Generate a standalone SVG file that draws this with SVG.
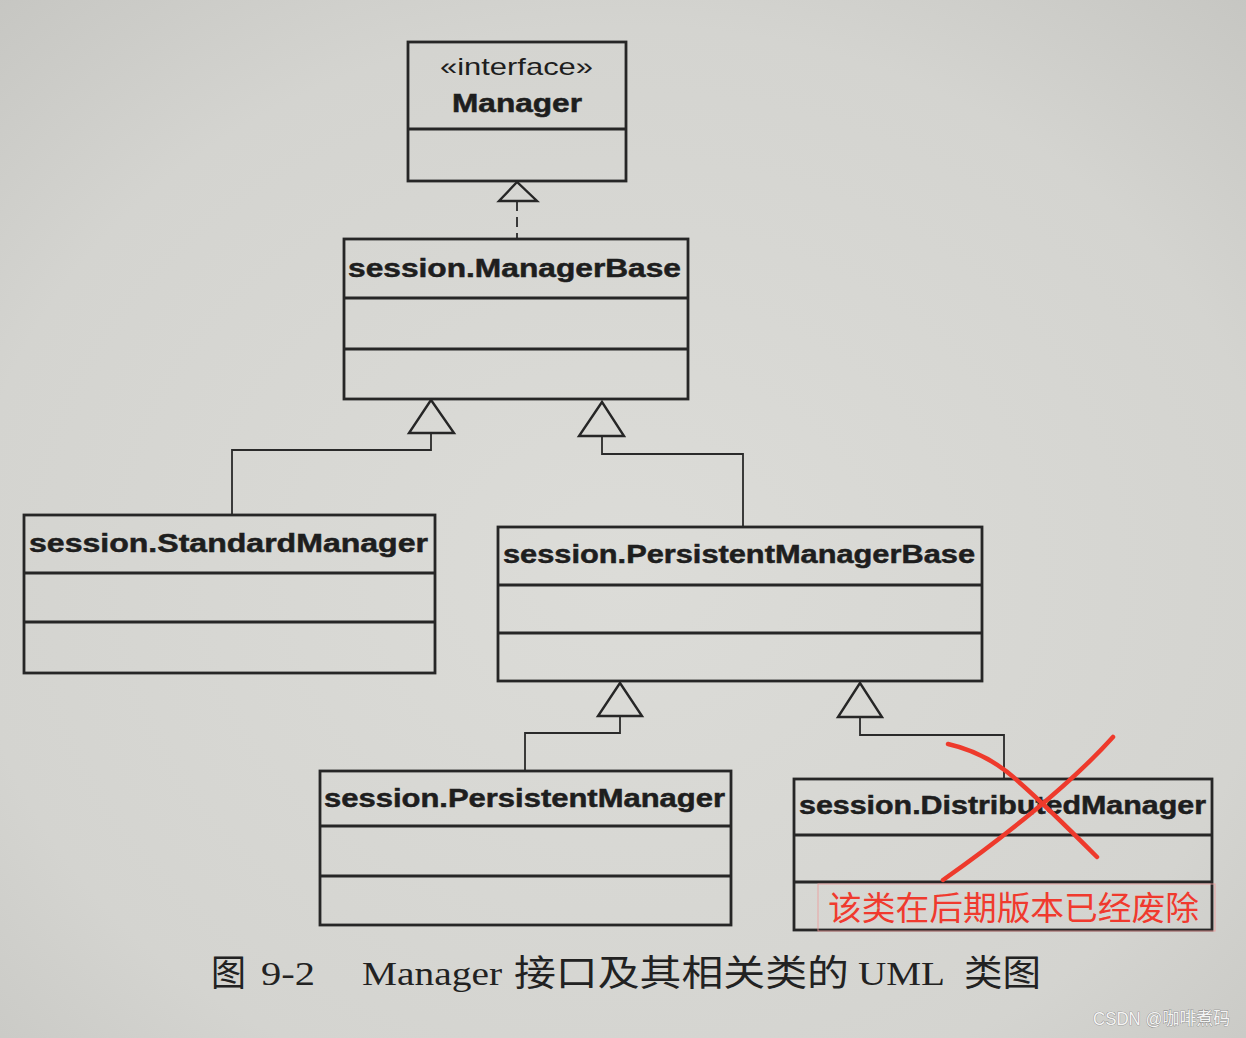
<svg xmlns="http://www.w3.org/2000/svg" width="1246" height="1038" viewBox="0 0 1246 1038">
<defs>
<radialGradient id="bg" cx="0.5" cy="0.55" r="0.75">
<stop offset="0" stop-color="#dcdcd8"/>
<stop offset="0.7" stop-color="#d4d4d0"/>
<stop offset="1" stop-color="#c6c6c2"/>
</radialGradient>
<style>
.box{fill:none;stroke:#262626;stroke-width:2.8}
.div{stroke:#262626;stroke-width:2.8}
.name{font-family:"Liberation Sans",Arial,sans-serif;font-weight:bold;font-size:25px;fill:#1e1e1e;stroke:#1e1e1e;stroke-width:0.5}
.stereo{font-family:"Liberation Sans",Arial,sans-serif;font-size:24px;fill:#1e1e1e}
.conn{fill:none;stroke:#2a2a2a;stroke-width:1.8}
.tri{fill:none;stroke:#262626;stroke-width:2.4;stroke-linejoin:miter}
.x{fill:none;stroke:#ee3a2c;stroke-width:4.5;stroke-linecap:round}
.cap{font-family:"Liberation Serif","Times New Roman","Noto Sans CJK SC",serif;font-size:34px;fill:#222}
.capc{font-family:"Noto Sans CJK SC",sans-serif;font-size:36px;fill:#222}
</style>
</defs>
<rect width="1246" height="1038" fill="url(#bg)"/>

<g id="connectors">
<line class="conn" x1="517" y1="201" x2="517" y2="239" stroke-dasharray="10 6"/>
<polygon class="tri" points="517,182 499,201 537,201"/>
<polyline class="conn" points="431,433 431,450 232,450 232,515"/>
<polygon class="tri" points="431,400 409,433 454,433"/>
<polyline class="conn" points="602,436 602,454 743,454 743,527"/>
<polygon class="tri" points="602,402 579,436 624,436"/>
<polyline class="conn" points="620,716 620,733 525,733 525,771"/>
<polygon class="tri" points="620,683 598,716 642,716"/>
<polyline class="conn" points="860,717 860,735 1004,735 1004,779"/>
<polygon class="tri" points="860,683 838,717 882,717"/>
</g>

<g id="Manager">
<rect class="box" x="408" y="42" width="218" height="139"/>
<line class="div" x1="408" y1="129" x2="626" y2="129"/>
<text class="stereo" x="440" y="75" textLength="153" lengthAdjust="spacingAndGlyphs">«interface»</text>
<text class="name" x="452" y="112" textLength="130" lengthAdjust="spacingAndGlyphs">Manager</text>
</g>

<g id="ManagerBase">
<rect class="box" x="344" y="239" width="344" height="160"/>
<line class="div" x1="344" y1="298" x2="688" y2="298"/>
<line class="div" x1="344" y1="349" x2="688" y2="349"/>
<text class="name" x="348" y="277" textLength="333" lengthAdjust="spacingAndGlyphs">session.ManagerBase</text>
</g>

<g id="StandardManager">
<rect class="box" x="24" y="515" width="411" height="158"/>
<line class="div" x1="24" y1="573" x2="435" y2="573"/>
<line class="div" x1="24" y1="622" x2="435" y2="622"/>
<text class="name" x="29" y="552" textLength="399" lengthAdjust="spacingAndGlyphs">session.StandardManager</text>
</g>

<g id="PersistentManagerBase">
<rect class="box" x="498" y="527" width="484" height="154"/>
<line class="div" x1="498" y1="585" x2="982" y2="585"/>
<line class="div" x1="498" y1="633" x2="982" y2="633"/>
<text class="name" x="503" y="563" textLength="472" lengthAdjust="spacingAndGlyphs">session.PersistentManagerBase</text>
</g>

<g id="PersistentManager">
<rect class="box" x="320" y="771" width="411" height="154"/>
<line class="div" x1="320" y1="826" x2="731" y2="826"/>
<line class="div" x1="320" y1="876" x2="731" y2="876"/>
<text class="name" x="324" y="807" textLength="401" lengthAdjust="spacingAndGlyphs">session.PersistentManager</text>
</g>

<g id="DistributedManager">
<rect class="box" x="794" y="779" width="418" height="151"/>
<line class="div" x1="794" y1="835" x2="1212" y2="835"/>
<line class="div" x1="794" y1="882" x2="1212" y2="882"/>
<text class="name" x="799" y="814" textLength="407" lengthAdjust="spacingAndGlyphs">session.DistributedManager</text>
<rect x="818" y="884" width="397" height="47" fill="none" stroke="#e99" stroke-width="1" opacity="0.8"/>
<text x="828" y="920" font-family="'Noto Sans CJK SC',sans-serif" font-size="33" fill="#f03a2e" textLength="371" lengthAdjust="spacingAndGlyphs">该类在后期版本已经废除</text>
<path class="x" d="M948,744 C975,750 1000,764 1020,783 C1045,805 1075,835 1097,857"/>
<path class="x" d="M1113,737 C1070,785 1000,840 943,880"/>
</g>

<g id="caption">
<text class="capc" x="211" y="986" textLength="35" lengthAdjust="spacingAndGlyphs">图</text>
<text class="cap" x="261" y="985" textLength="54" lengthAdjust="spacingAndGlyphs">9-2</text>
<text class="cap" x="362" y="985" textLength="140" lengthAdjust="spacingAndGlyphs">Manager</text>
<text class="capc" x="514" y="986" textLength="335" lengthAdjust="spacingAndGlyphs">接口及其相关类的</text>
<text class="cap" x="858" y="985" textLength="87" lengthAdjust="spacingAndGlyphs">UML</text>
<text class="capc" x="964" y="986" textLength="77" lengthAdjust="spacingAndGlyphs">类图</text>
</g>

<text x="1093" y="1025" font-family="'Liberation Sans','Noto Sans CJK SC',sans-serif" font-size="18" fill="#f4f4f4" stroke="#7a7a7a" stroke-width="0.7" paint-order="stroke" textLength="137" lengthAdjust="spacingAndGlyphs">CSDN @咖啡煮码</text>
</svg>
